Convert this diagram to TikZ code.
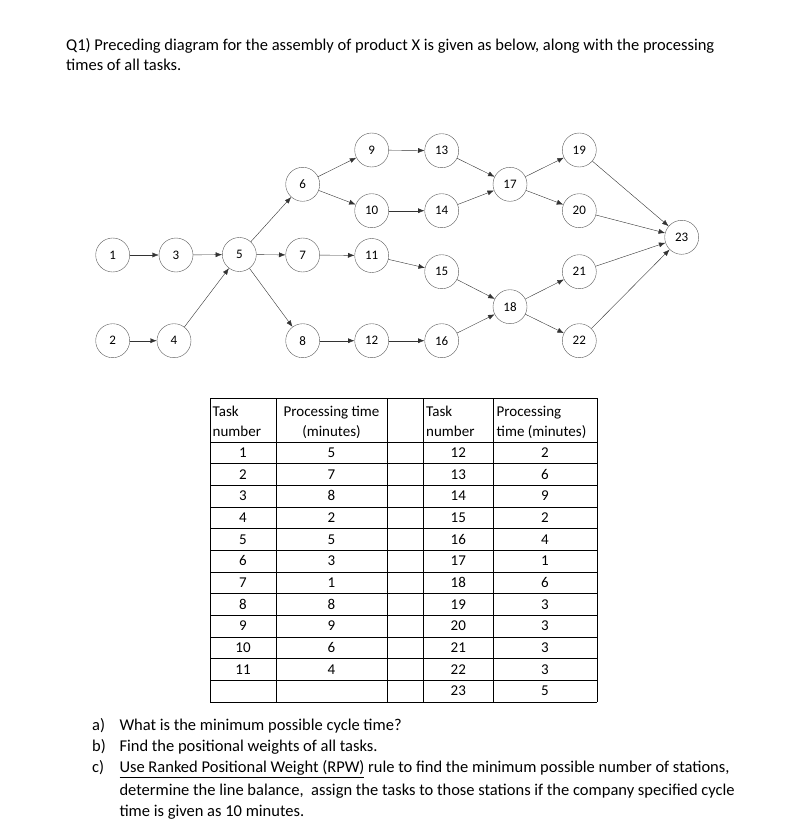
\documentclass[tikz,border=0pt]{standalone}
\usepackage{fontspec}
\setmainfont{Carlito}
\usetikzlibrary{arrows.meta}

\tikzset{
    task/.style={circle, draw=black!65, thin, minimum size=34pt, inner sep=0pt, font=\fontsize{13}{13}\selectfont},
    prec/.style={-{Latex[length=6.5pt,width=5pt]}, draw=black!80, thin},
    txt/.style={anchor=base west, inner sep=0pt, font=\fontsize{16.5}{20}\selectfont},
    cell/.style={anchor=base, inner sep=0pt, font=\fontsize{15}{18}\selectfont},
    hcell/.style={anchor=base west, inner sep=0pt, font=\fontsize{15}{18}\selectfont}
}

\begin{document}
\begin{tikzpicture}[x=1pt,y=-1pt]
    \useasboundingbox (0,0) rectangle (804,835);

    % question text
    \node[txt] (q1) at (66,50.7) {Q1) Preceding diagram for the assembly of product X is given as below, along with the processing};
    \node[txt] (q2) at (66,70) {times of all tasks.};

    % precedence diagram
    \foreach \n/\x/\y in {1/112.7/255, 3/176/255, 2/112.7/340.7, 4/174/340.7, 5/239.3/254.5,
                          6/302.7/184.3, 7/302.7/255, 8/302.7/340.7,
                          9/371.7/150, 10/371.7/210.7, 11/371.7/255.5, 12/371.7/340.7,
                          13/441.7/150.7, 14/441.7/210.7, 15/441.7/271.7, 16/441.7/340.7,
                          17/510/184.3, 18/510/306.7,
                          19/579.3/150, 20/579.3/210.7, 21/579.3/271.7, 22/579.3/340.7,
                          23/681.7/237.3} {
        \node[task] (t\n) at (\x,\y) {\n};
    }
    \foreach \a/\b in {1/3, 3/5, 2/4, 4/5, 5/6, 5/7, 5/8, 6/9, 6/10, 7/11, 8/12,
                       9/13, 10/14, 11/15, 12/16, 13/17, 14/17, 15/18, 16/18,
                       17/19, 17/20, 18/21, 18/22, 19/23, 20/23, 21/23, 22/23} {
        \draw[prec] (t\a) -- (t\b);
    }

    % table
    \foreach \y in {398.3, 441.7, 463.3, 485, 506.7, 528.3, 550, 571.7, 593.3, 615, 636.7, 658.3, 680, 701.7} {
        \draw[thin] (210,\y) -- (596.7,\y);
    }
    \foreach \x in {210, 276, 386.7, 423.3, 493.3, 596.7} {
        \draw[thin] (\x,398.3) -- (\x,701.7);
    }

    \node[hcell] (h1a) at (212.5,416) {Task};
    \node[hcell] (h1b) at (212.5,436.7) {number};
    \node[cell] (h2a) at (331.5,416) {Processing time};
    \node[cell] (h2b) at (331.5,436.7) {(minutes)};
    \node[hcell] (h4a) at (426,416) {Task};
    \node[hcell] (h4b) at (426,436.7) {number};
    \node[hcell] (h5a) at (496.5,416) {Processing};
    \node[hcell] (h5b) at (496.5,436.7) {time (minutes)};

    \foreach \a/\b/\c/\d [count=\i] in {1/5/12/2, 2/7/13/6, 3/8/14/9, 4/2/15/2, 5/5/16/4, 6/3/17/1,
                                        7/1/18/6, 8/8/19/3, 9/9/20/3, 10/6/21/3, 11/4/22/3} {
        \node[cell] (ca\i) at (243,441.7+\i*21.67-5.8) {\a};
        \node[cell] (cb\i) at (331.5,441.7+\i*21.67-5.8) {\b};
        \node[cell] (cc\i) at (458.3,441.7+\i*21.67-5.8) {\c};
        \node[cell] (cd\i) at (545,441.7+\i*21.67-5.8) {\d};
    }
    \node[cell] (cc12) at (458.3,695.9) {23};
    \node[cell] (cd12) at (545,695.9) {5};

    % questions
    \node[txt] (qa) at (92,730.7) {a)};
    \node[txt] (qat) at (119.3,730.7) {What is the minimum possible cycle time?};
    \node[txt] (qb) at (92,751.7) {b)};
    \node[txt] (qbt) at (119.3,751.7) {Find the positional weights of all tasks.};
    \node[txt] (qc) at (92,772.7) {c)};
    \node[txt] (qct) at (119.3,772.7) {\underline{Use Ranked Positional Weight (RPW)} rule to find the minimum possible number of stations,};
    \node[txt] (qc2) at (119.3,795) {determine the line balance, \ assign the tasks to those stations if the company specified cycle};
    \node[txt] (qc3) at (119.3,816.7) {time is given as 10 minutes.};
\end{tikzpicture}
\end{document}
